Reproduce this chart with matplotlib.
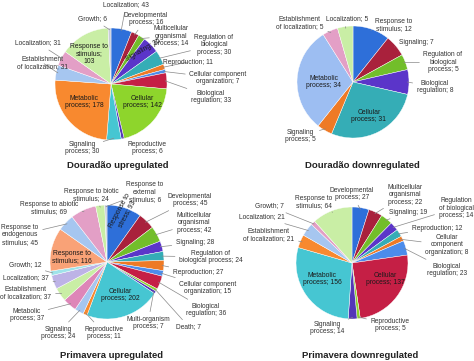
import numpy as np
import matplotlib
matplotlib.use("Agg")
from matplotlib import pyplot as plt

W, H = 474, 361  # figure size in pixels, axes use pixel coords

# colours (Excel-like palette)
BLUE, DKRED, GREEN, PURPLE, TEAL, ORANGE = '#2E6FD9', '#A9213C', '#72BE2A', '#5B35C9', '#35ADB6', '#EE7A26'
BLUE2, CRIMSON, LIME, PURPLE2, CYAN, ORANGE2 = '#4C8CEB', '#C51F45', '#8ED52C', '#5437B7', '#46C6D2', '#F8892F'
LTBLUE, PINK, LTGREEN, LTPURPLE, LTCYAN, SALMON, GRAY = '#A6C6F0', '#E39FC6', '#C9EEA5', '#BDB3E6', '#9FE3EA', '#F9A277', '#C8CCDA'

# ---- Douradao upregulated
du_names = ["Localization", "Developmental\nprocess", "Multicellular\norganismal\nprocess", "Signaling",
            "Regulation of\nbiological\nprocess", "Reproduction", "Cellular component\norganization",
            "Biological\nregulation", "Cellular\nprocess", "Reproductive\nprocess", "Signaling\nprocess",
            "Metabolic\nprocess", "Establishment\nof localization", "Localization", "Response to\nstimulus", "Growth"]
du_values = [43, 16, 14, 35, 30, 11, 7, 33, 142, 6, 30, 178, 31, 31, 103, 6]
du_colors = [BLUE, DKRED, GREEN, PURPLE, TEAL, ORANGE, BLUE2, CRIMSON, LIME, PURPLE2, CYAN, ORANGE2,
             LTBLUE, PINK, LTGREEN, GRAY]

# ---- Douradao downregulated
dd_names = ["Response to\nstimulus", "Signaling", "Regulation of\nbiological\nprocess", "Biological\nregulation",
            "Cellular\nprocess", "Signaling\nprocess", "Metabolic\nprocess", "Establishment\nof localization",
            "Localization"]
dd_values = [12, 7, 5, 8, 31, 5, 34, 5, 5]
dd_colors = [BLUE, DKRED, GREEN, PURPLE, TEAL, ORANGE, '#9DBEF2', PINK, LTGREEN]

# ---- Primavera upregulated
pu_names = ["Response to\nstress", "Developmental\nprocess", "Multicellular\norganismal\nprocess", "Signaling",
            "Regulation of\nbiological process", "Reproduction", "Cellular component\norganization",
            "Biological\nregulation", "Death", "Multi-organism\nprocess", "Cellular\nprocess",
            "Reproductive\nprocess", "Signaling\nprocess", "Metabolic\nprocess", "Establishment\nof localization",
            "Localization", "Growth", "Response to\nstimulus", "Response to\nendogenous\nstimulus",
            "Response to abiotic\nstimulus", "Response to biotic\nstimulus", "Response to\nexternal\nstimulus"]
pu_values = [93, 45, 42, 28, 24, 27, 15, 36, 7, 7, 202, 11, 24, 37, 37, 37, 12, 116, 45, 69, 24, 6]
pu_colors = [BLUE, DKRED, GREEN, PURPLE, TEAL, ORANGE, BLUE2, CRIMSON, LIME, PURPLE2, CYAN, ORANGE2,
             LTBLUE, '#DE86B8', LTGREEN, LTPURPLE, LTCYAN, SALMON, LTBLUE, PINK, LTGREEN, GRAY]

# ---- Primavera downregulated
pd_names = ["Developmental\nprocess", "Multicellular\norganismal\nprocess", "Signaling",
            "Regulation\nof biological\nprocess", "Reproduction", "Cellular\ncomponent\norganization",
            "Biological\nregulation", "Cellular\nprocess", "Reproductive\nprocess", "Signaling\nprocess",
            "Metabolic\nprocess", "Establishment\nof localization", "Localization", "Growth",
            "Response to\nstimulus"]
pd_values = [27, 22, 19, 14, 12, 8, 23, 137, 5, 14, 156, 21, 21, 7, 64]
pd_colors = [BLUE, DKRED, GREEN, PURPLE, TEAL, ORANGE, BLUE2, CRIMSON, LIME, PURPLE2, CYAN, ORANGE2,
             LTBLUE, PINK, LTGREEN]

# layout: pie centre / radius, title position, label positions (pixels from top-left)
# ('in', x, y, rot, sep) -> text inside the slice
charts = [
    dict(names=du_names, values=du_values, colors=du_colors, center=(111, 84), r=56,
         title="Douradão upregulated", tpos=(118, 166),
         pos=[(126, 5), (146, 19), (171, 36), ('in', 143, 50, 30, '; '), (214, 45), (188, 62), (218, 78),
              (211, 97), ('in', 142, 102, 0, '; '), (147, 148), (82, 148), ('in', 84, 102, 0, '; '), (43, 63),
              (38, 43), ('in', 89, 54, 0, ';\n'), (93, 19)]),
    dict(names=dd_names, values=dd_values, colors=dd_colors, center=(353, 82), r=56,
         title="Douradão downregulated", tpos=(362, 166),
         pos=[(394, 25), (416, 43), (443, 62), (435, 87), ('in', 369, 116, 0, '; '), (300, 136),
              ('in', 324, 82, 0, '; '), (300, 23), (347, 19)]),
    dict(names=pu_names, values=pu_values, colors=pu_colors, center=(107, 262), r=57,
         title="Primavera upregulated", tpos=(112, 355),
         pos=[('in', 123, 212, 62, '; '), (190, 200), (194, 223), (195, 243), (211, 257), (198, 273), (208, 288),
              (206, 310), (189, 327), (148, 323), ('in', 120, 295, 0, '; '), (104, 333), (58, 333), (27, 315),
              (26, 293), (26, 278), (25, 265), ('in', 72, 257, 0, '; '), (20, 235), (49, 208), (91, 195),
              (145, 192)]),
    dict(names=pd_names, values=pd_values, colors=pd_colors, center=(352, 263), r=56,
         title="Primavera downregulated", tpos=(360, 355),
         pos=[(352, 194), (405, 195), (408, 212), (456, 208), (437, 228), (447, 245), (447, 270),
              ('in', 385, 279, 0, '; '), (390, 325), (327, 328), ('in', 322, 279, 0, '; '), (269, 235), (262, 217),
              (269, 206), (314, 202)]),
]

plt.rcParams['font.family'] = ['Liberation Sans', 'DejaVu Sans']
fig = plt.figure(figsize=(W / 100, H / 100), dpi=100)
ax = fig.add_axes([0, 0, 1, 1])

for ch in charts:
    cx, cy = ch['center']
    cy = H - cy
    r = ch['r']
    vals = ch['values']
    ax.pie(vals, colors=ch['colors'], startangle=90, counterclock=False, center=(cx, cy), radius=r,
           frame=True, wedgeprops=dict(edgecolor='white', linewidth=0.3))
    total = float(sum(vals))
    cum = np.cumsum([0] + vals[:-1])
    for name, v, c0, p in zip(ch['names'], vals, cum, ch['pos']):
        if p[0] == 'in':
            ax.text(p[1], H - p[2], name + p[4] + str(v), ha='center', va='center', fontsize=4.9,
                    rotation=p[3], color='#1a1a1a', linespacing=1.1)
            continue
        ang = np.deg2rad(90 - 360 * (c0 + v / 2) / total)
        xy = (cx + 0.97 * r * np.cos(ang), cy + 0.97 * r * np.sin(ang))
        ax.annotate(name + "; " + str(v), xy=xy, xytext=(p[0], H - p[1]), ha='center', va='center',
                    fontsize=4.8, color='#333333', linespacing=1.1,
                    arrowprops=dict(arrowstyle='-', color='#888888', lw=0.5, shrinkA=1, shrinkB=0))
    tx, ty = ch['tpos']
    ax.text(tx, H - ty, ch['title'], ha='center', va='center', fontsize=6.8, fontweight='bold',
            color='#222222')

ax.set_xlim(0, W)
ax.set_ylim(0, H)
ax.set_aspect('auto')
ax.axis('off')
fig.savefig("out.png", dpi=100)
